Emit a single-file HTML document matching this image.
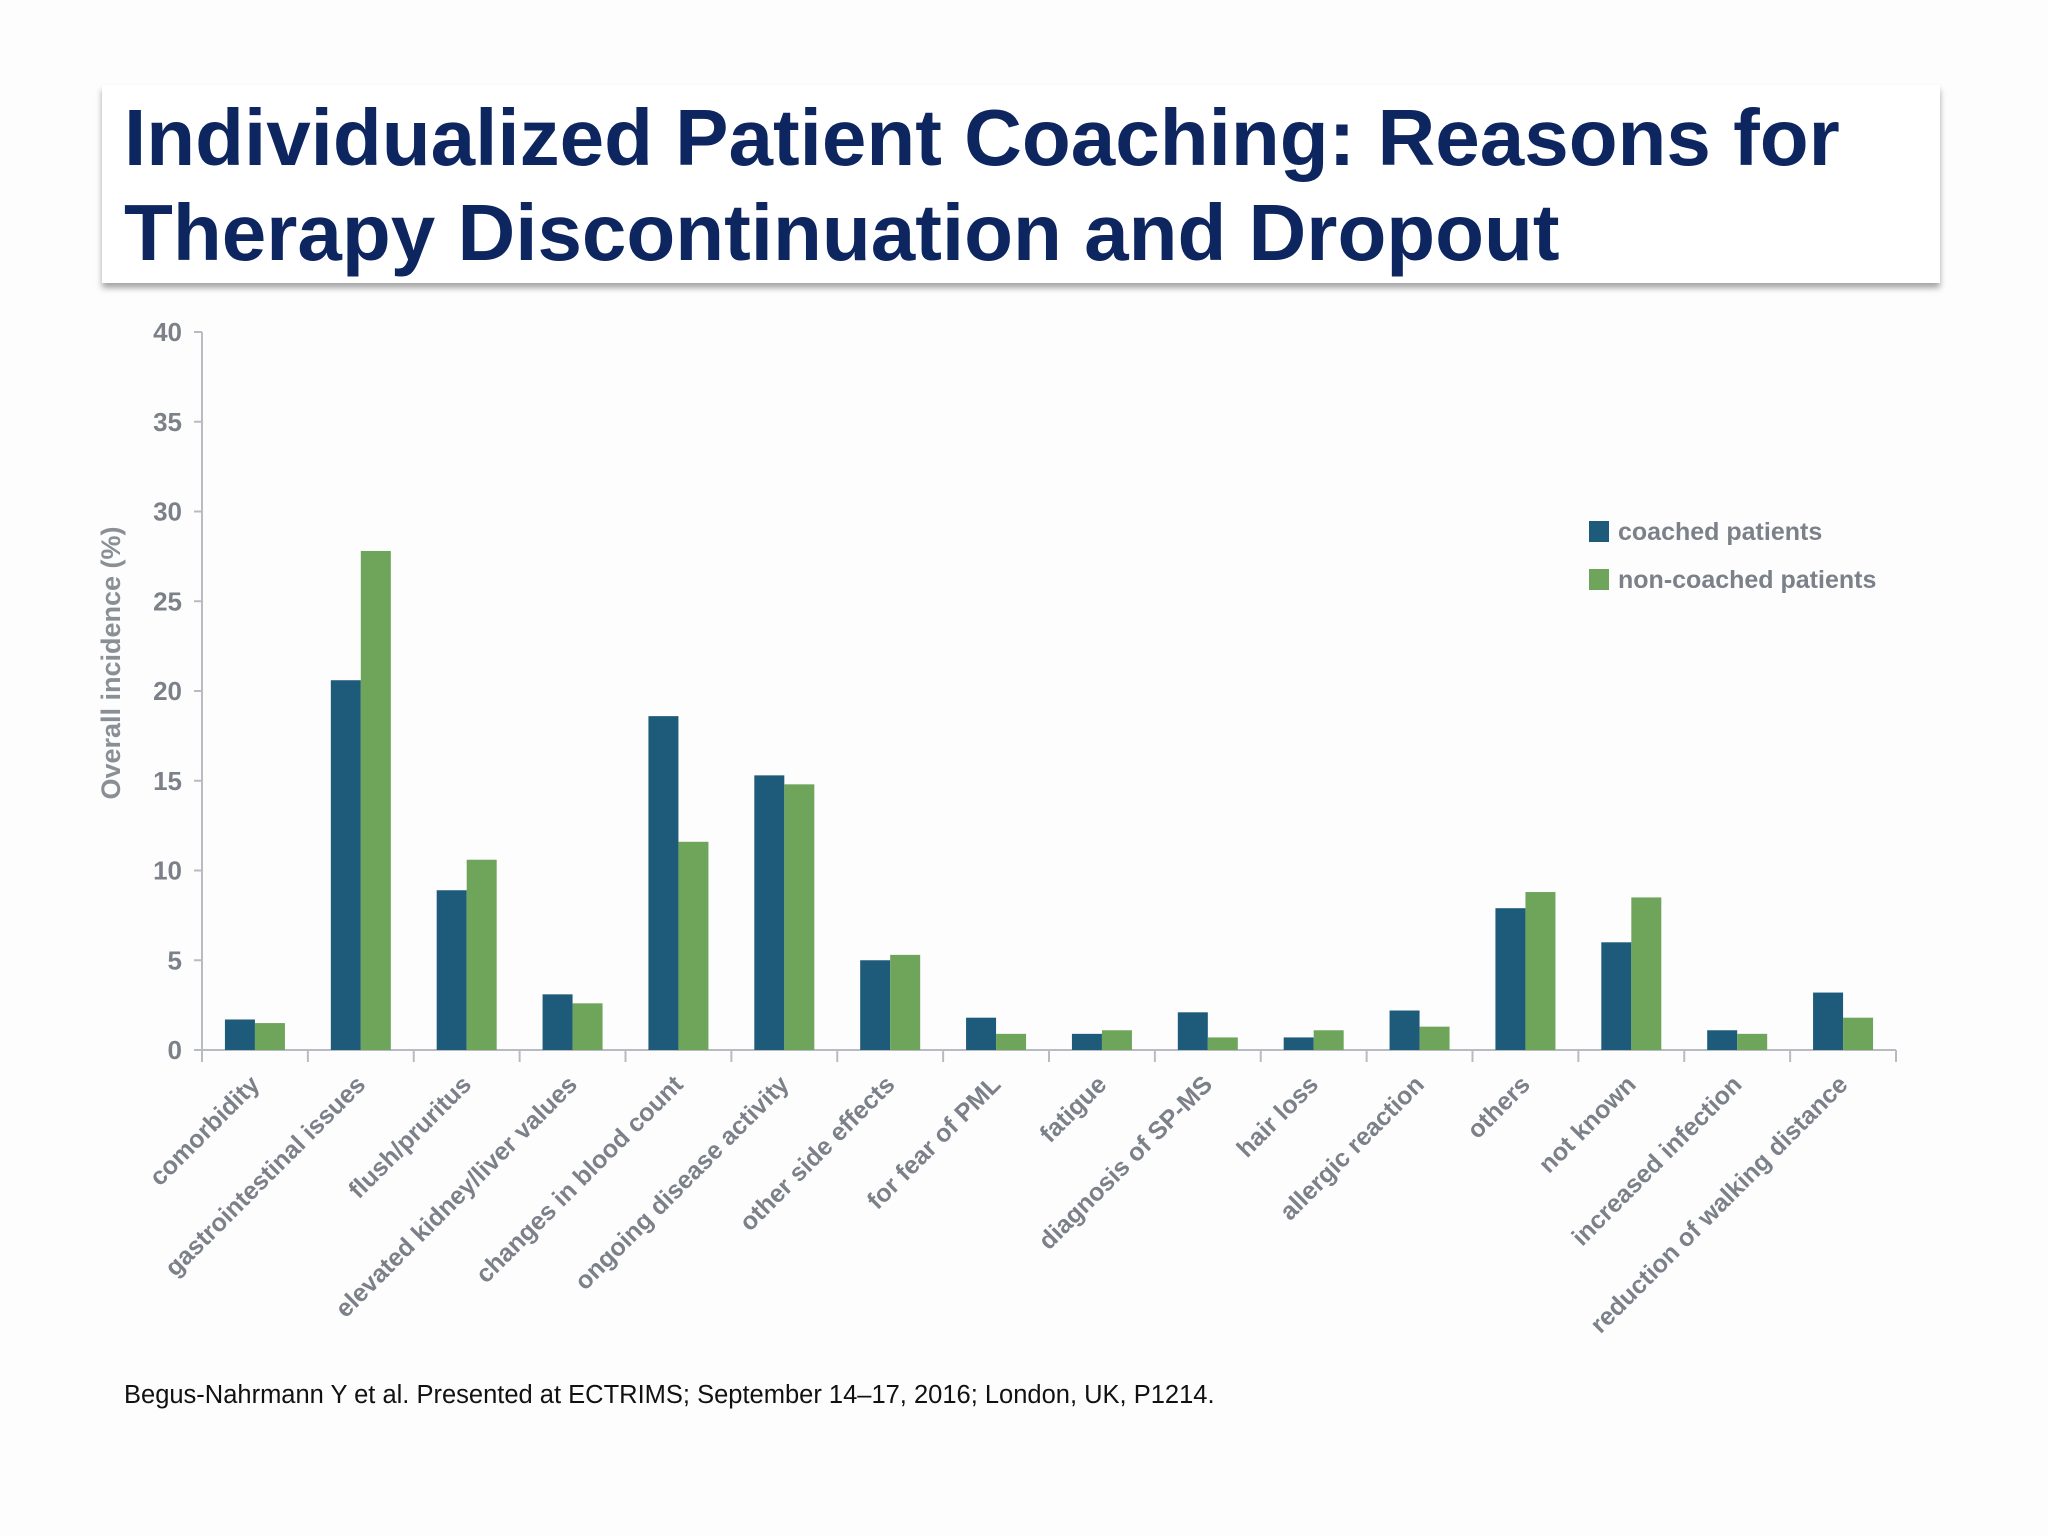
<!DOCTYPE html>
<html><head><meta charset="utf-8">
<style>
body{margin:0;width:2048px;height:1536px;background:#fdfdfe;overflow:hidden;font-family:"Liberation Sans",sans-serif;}
#title-box{position:absolute;left:102px;top:85px;width:1838px;height:198px;background:#fff;box-shadow:0 5px 6px rgba(0,0,0,0.35);}
#title{position:absolute;left:22px;top:5px;margin:0;font-size:80px;line-height:95px;font-weight:bold;color:#0e2660;}
#foot{position:absolute;left:124px;top:1381px;font-size:25.5px;color:#111;}
</style></head>
<body>
<div id="title-box"><h1 id="title">Individualized Patient Coaching: Reasons for<br>Therapy Discontinuation and Dropout</h1></div>
<svg id="chart" width="2048" height="1536" style="position:absolute;left:0;top:0"></svg>
<div id="foot">Begus-Nahrmann Y et al. Presented at ECTRIMS; September 14–17, 2016; London, UK, P1214.</div>
<script>
const categories=["comorbidity","gastrointestinal issues","flush/pruritus","elevated kidney/liver values","changes in blood count","ongoing disease activity","other side effects","for fear of PML","fatigue","diagnosis of SP-MS","hair loss","allergic reaction","others","not known","increased infection","reduction of walking distance"];
const coached=[1.7,20.6,8.9,3.1,18.6,15.3,5.0,1.8,0.9,2.1,0.7,2.2,7.9,6.0,1.1,3.2];
const nonCoached=[1.5,27.8,10.6,2.6,11.6,14.8,5.3,0.9,1.1,0.7,1.1,1.3,8.8,8.5,0.9,1.8];
const yTicks=[0,5,10,15,20,25,30,35,40];
const svg=document.getElementById('chart');
const NS='http://www.w3.org/2000/svg';
const X0=202,X1=1896,Y0=1050,Y1=332,YMAX=40;
const step=(X1-X0)/categories.length, bw=30;
function y(v){return Y0-(v/YMAX)*(Y0-Y1);}
function xc(i){return X0+step*(i+0.5);}
function mk(t,a){const e=document.createElementNS(NS,t);for(const k in a)e.setAttribute(k,a[k]);svg.appendChild(e);return e;}
const grey='#7b8089', axisC='#b8bcc2';
let ax=mk('line',{x1:X0,y1:Y1,x2:X0,y2:Y0,stroke:axisC,'stroke-width':2});


let bx=mk('line',{x1:X0,y1:Y0,x2:X1,y2:Y0,stroke:axisC,'stroke-width':2});


yTicks.forEach(t=>{
  const l=mk('line',{x1:X0-8,y1:y(t),x2:X0,y2:y(t),stroke:axisC,'stroke-width':2});
  
  
  const tx=mk('text',{x:X0-20,y:y(t)+9,'text-anchor':'end','font-size':26,'font-weight':'bold',fill:grey});
  tx.textContent=t;
  
  
});
for(let i=0;i<=categories.length;i++){
  const l=mk('line',{x1:X0+step*i,y1:Y0,x2:X0+step*i,y2:Y0+12,stroke:axisC,'stroke-width':2});
  
  
}
categories.forEach((c,i)=>{
  const b1=mk('rect',{x:xc(i)-bw,y:y(coached[i]),width:bw,height:Y0-y(coached[i]),fill:'#1e5a7a'});
  
  
  const b2=mk('rect',{x:xc(i),y:y(nonCoached[i]),width:bw,height:Y0-y(nonCoached[i]),fill:'#6ea55a'});
  
  
  const lx=xc(i)+6, ly=Y0+36;
  const t=mk('text',{x:lx,y:ly,'text-anchor':'end','font-size':25,'font-weight':'bold',fill:grey,transform:`rotate(-45 ${lx} ${ly})`});
  t.textContent=c;
  
  
});
const yt=mk('text',{x:120,y:663,'text-anchor':'middle','font-size':27,'font-weight':'bold',fill:'#8a8f96',transform:'rotate(-90 120 663)'});
yt.textContent='Overall incidence (%)';


[['coached patients','#1e5a7a',521],['non-coached patients','#6ea55a',569]].forEach(([l,c,yy])=>{
  const r=mk('rect',{x:1589,y:yy,width:20,height:21,fill:c});
  
  
  const t=mk('text',{x:1618,y:yy+19,'font-size':25,'font-weight':'bold',fill:grey});
  t.textContent=l;
  
  
});
</script>
</body></html>
